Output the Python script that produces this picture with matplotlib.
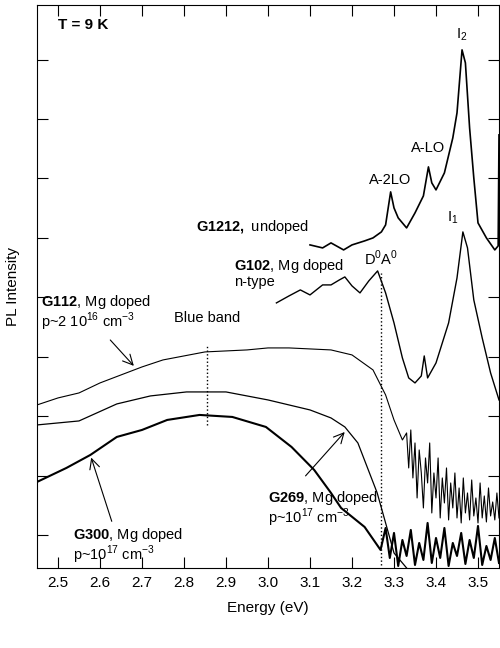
import numpy as np
import matplotlib.pyplot as plt

plt.rcParams['font.family'] = ['Liberation Sans', 'DejaVu Sans']
plt.rcParams['mathtext.fontset'] = 'custom'
plt.rcParams['mathtext.rm'] = 'Liberation Sans'
plt.rcParams['mathtext.bf'] = 'Liberation Sans:bold'

# PL intensity in arbitrary (offset) units
g1212_e = [3.10, 3.13, 3.15, 3.18, 3.20, 3.23, 3.25, 3.27, 3.28, 3.292, 3.30, 3.31, 3.33, 3.35, 3.37, 3.382,
           3.39, 3.40, 3.42, 3.44, 3.45, 3.462, 3.47, 3.48, 3.49, 3.50, 3.52, 3.54, 3.548, 3.55]
g1212_i = [323, 320, 325, 318, 323, 327, 330, 336, 343, 376, 360, 350, 340, 355, 372, 401,
           385, 378, 395, 430, 455, 518, 505, 440, 390, 345, 330, 318, 322, 433]

g102_e = [3.02, 3.05, 3.077, 3.10, 3.13, 3.15, 3.17, 3.183, 3.20, 3.219, 3.24, 3.261, 3.28, 3.30, 3.32,
          3.335, 3.35, 3.365, 3.372, 3.38, 3.40, 3.43, 3.45, 3.464, 3.475, 3.49, 3.51, 3.53, 3.55]
g102_i = [265, 272, 278, 273, 283, 283, 288, 291, 282, 275, 287, 297, 275, 245, 210,
          190, 185, 192, 212, 190, 205, 245, 290, 336, 320, 268, 230, 195, 168]

g112_e = [2.45, 2.50, 2.55, 2.60, 2.65, 2.70, 2.75, 2.80, 2.85, 2.90, 2.95, 3.00, 3.05, 3.10, 3.15, 3.20,
          3.25, 3.28, 3.30, 3.32, 3.33, 3.335, 3.34, 3.345, 3.35, 3.355, 3.36, 3.365, 3.37, 3.375, 3.38,
          3.385, 3.39, 3.395, 3.40, 3.405, 3.41, 3.415, 3.42, 3.425, 3.43, 3.435, 3.44, 3.445, 3.45,
          3.455, 3.46, 3.465, 3.47, 3.475, 3.48, 3.485, 3.49, 3.495, 3.50, 3.505, 3.51, 3.515, 3.52,
          3.525, 3.53, 3.535, 3.54, 3.545, 3.55]
g112_i = [163, 170, 175, 185, 193, 201, 208, 212, 216, 217, 218, 220, 220, 219, 218, 213,
          198, 173, 148, 128, 135, 100, 138, 90, 125, 70, 118, 95, 60, 110, 85,
          125, 55, 95, 70, 110, 50, 90, 65, 100, 48, 85, 60, 95, 50,
          80, 45, 90, 55, 75, 48, 88, 52, 70, 45, 85, 50, 72, 46,
          80, 52, 66, 48, 75, 50]

g269_e = [2.45, 2.55, 2.64, 2.72, 2.806, 2.90, 3.00, 3.10, 3.15, 3.183, 3.214, 3.26, 3.30, 3.33]
g269_i = [143, 147, 164, 172, 176, 176, 168, 158, 150, 141, 125, 75, 15, 0]

g300_e = [2.45, 2.52, 2.577, 2.64, 2.70, 2.76, 2.837, 2.915, 2.995, 3.056, 3.11, 3.15, 3.174, 3.23,
          3.268, 3.28, 3.29, 3.30, 3.31, 3.32, 3.33, 3.34, 3.35, 3.36, 3.37, 3.38, 3.39, 3.40, 3.41,
          3.42, 3.43, 3.44, 3.45, 3.46, 3.47, 3.48, 3.49, 3.50, 3.51, 3.52, 3.53, 3.54, 3.55]
g300_i = [86, 100, 113, 131, 138, 148, 153, 151, 141, 121, 98, 75, 60, 41,
          18, 40, 10, 35, 2, 28, 12, 38, 3, 25, 8, 45, 5, 30, 10,
          40, 2, 25, 12, 35, 4, 28, 10, 42, 3, 22, 8, 30, 5]

fig = plt.figure(figsize=(5, 6.48), dpi=100)
ax = fig.add_axes([0.074, 0.1235, 0.924, 0.869])

ax.plot(g1212_e, g1212_i, color='black', lw=1.2)
ax.plot(g102_e, g102_i, color='black', lw=1.0)
ax.plot(g112_e, g112_i, color='black', lw=0.8)
ax.plot(g269_e, g269_i, color='black', lw=0.9)
ax.plot(g300_e, g300_i, color='black', lw=1.5)

ax.plot([2.855, 2.855], [143, 223], ls=':', color='black', lw=1)
ax.plot([3.268, 3.268], [3, 295], ls=':', color='black', lw=1)

ax.set_xlim(2.45, 3.55)
ax.set_ylim(0, 563)
ax.set_xticks(np.arange(2.5, 3.51, 0.1))
ax.set_xticklabels(['%.1f' % v for v in np.arange(2.5, 3.51, 0.1)])
ax.set_yticks(np.arange(33, 563, 59.4))
ax.set_yticklabels([])
ax.tick_params(direction='in', top=True, right=True, length=8, labelsize=11, pad=6)
ax.set_xlabel('Energy (eV)', fontsize=11, labelpad=8)
ax.set_ylabel('PL Intensity', fontsize=11, labelpad=6)

fs = 10.5
ax.text(2.50, 543, 'T = 9 K', fontsize=11, fontweight='bold', va='center')
ax.text(3.462, 533, r'I$_2$', fontsize=fs, ha='center', va='center')
ax.text(3.38, 420, 'A-LO', fontsize=fs, ha='center', va='center')
ax.text(3.29, 388, 'A-2LO', fontsize=fs, ha='center', va='center')
ax.text(3.44, 350, r'I$_1$', fontsize=fs, ha='center', va='center')
ax.text(3.27, 310, r'D$^0$A$^0$', fontsize=fs, ha='center', va='center')
ax.text(3.098, 341, r'$\bf{G1212,}$ undoped', fontsize=fs, ha='right', va='center')
ax.text(2.92, 295, '$\\bf{G102}$, Mg doped\nn-type', fontsize=fs, va='center', linespacing=1.0)
ax.text(2.46, 255, '$\\bf{G112}$, Mg doped\np~2 10$^{16}$ cm$^{-3}$', fontsize=fs, va='center',
        linespacing=1.0)
ax.text(2.855, 250, 'Blue band', fontsize=fs, ha='center', va='center')
ax.text(3.0, 59, '$\\bf{G269}$, Mg doped\np~10$^{17}$ cm$^{-3}$', fontsize=fs, va='center',
        linespacing=1.0)
ax.text(2.535, 22, '$\\bf{G300}$, Mg doped\np~10$^{17}$ cm$^{-3}$', fontsize=fs, va='center',
        linespacing=1.0)

arr = dict(arrowstyle='->', color='black', lw=0.8, mutation_scale=18)
ax.annotate('', xy=(2.685, 200), xytext=(2.62, 230), arrowprops=arr)
ax.annotate('', xy=(2.577, 113), xytext=(2.63, 44), arrowprops=arr)
ax.annotate('', xy=(3.187, 138), xytext=(3.085, 90), arrowprops=arr)

fig.savefig('out.png', dpi=100)
